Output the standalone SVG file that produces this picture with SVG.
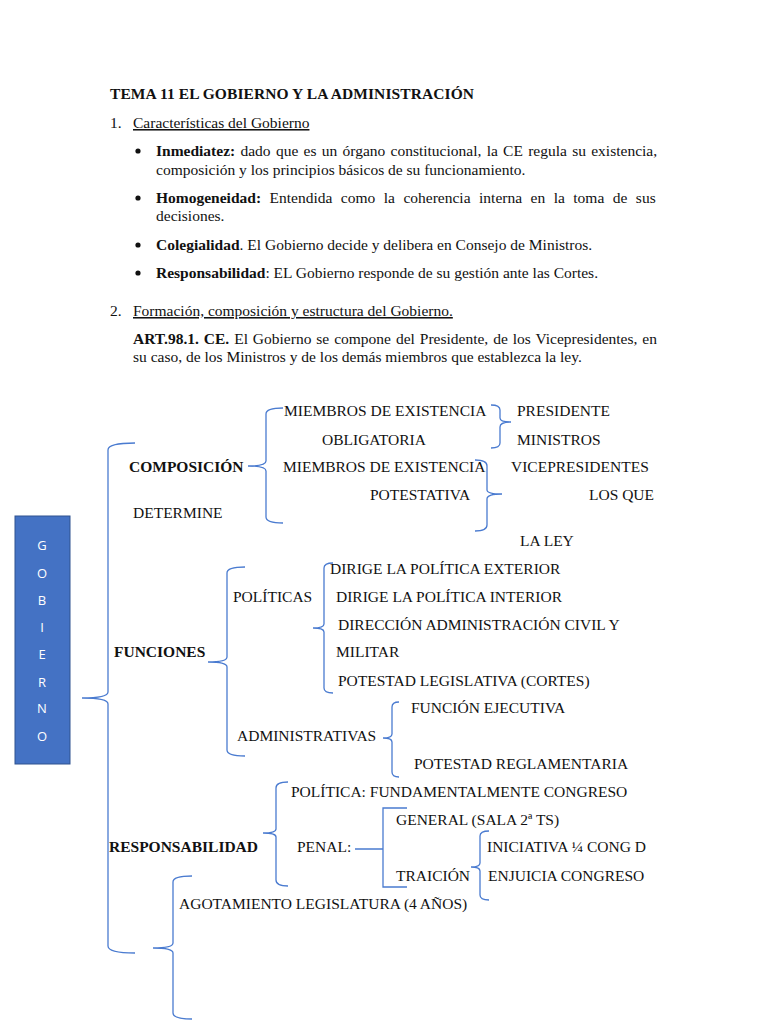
<svg xmlns="http://www.w3.org/2000/svg" width="768" height="1024" viewBox="0 0 768 1024">
<style>
text{font-family:"Liberation Serif","Times New Roman",serif;font-size:15.5px;fill:#111}
.b{font-weight:bold}
.u{text-decoration:underline}
.dot{fill:#111}
.br{fill:none;stroke:#4a7bd0;stroke-width:1.3}
.box{fill:#4472C4;stroke:#2F528F;stroke-width:1}
.v{font-family:"Open Sans","Liberation Sans",sans-serif;font-size:13px;fill:#fff;text-anchor:middle}
</style>
<rect width="768" height="1024" fill="#fff"/>
<g id="header">
<text class="b" x="110" y="99" textLength="364" lengthAdjust="spacing">TEMA 11 EL GOBIERNO Y LA ADMINISTRACIÓN</text>
<text x="110" y="128">1.</text><text class="u" x="133" y="128">Características del Gobierno</text>
<circle class="dot" cx="138" cy="151" r="2.6"/>
<text x="156" y="156" word-spacing="1.4"><tspan class="b">Inmediatez:</tspan> dado que es un órgano constitucional, la CE regula su existencia,</text>
<text x="156" y="175">composición y los principios básicos de su funcionamiento.</text>
<circle class="dot" cx="138" cy="198" r="2.6"/>
<text x="156" y="203" word-spacing="4.6"><tspan class="b">Homogeneidad:</tspan> Entendida como la coherencia interna en la toma de sus</text>
<text x="156" y="221">decisiones.</text>
<circle class="dot" cx="138" cy="245" r="2.6"/>
<text x="156" y="250"><tspan class="b">Colegialidad</tspan>. El Gobierno decide y delibera en Consejo de Ministros.</text>
<circle class="dot" cx="138" cy="273" r="2.6"/>
<text x="156" y="278"><tspan class="b">Responsabilidad</tspan>: EL Gobierno responde de su gestión ante las Cortes.</text>
<text x="110" y="316">2.</text><text class="u" x="133" y="316">Formación, composición y estructura del Gobierno.</text>
<text x="133" y="344" word-spacing="1.05"><tspan class="b">ART.98.1. CE.</tspan> El Gobierno se compone del Presidente, de los Vicepresidentes, en</text>
<text x="133" y="362">su caso, de los Ministros y de los demás miembros que establezca la ley.</text>
</g>
<g id="gobierno">
<rect class="box" x="15" y="516" width="55" height="248"/>
<text class="v" x="42" y="550">G</text>
<text class="v" x="42" y="578">O</text>
<text class="v" x="42" y="605">B</text>
<text class="v" x="42" y="632">I</text>
<text class="v" x="42" y="659">E</text>
<text class="v" x="42" y="687">R</text>
<text class="v" x="42" y="713">N</text>
<text class="v" x="42" y="741">O</text>
</g>
<g id="composicion">
<text class="b" x="129" y="472">COMPOSICIÓN</text>
<text x="133" y="518">DETERMINE</text>
</g>
<g id="miembros-obligatoria">
<text x="284" y="416">MIEMBROS DE EXISTENCIA</text>
<text x="322" y="445">OBLIGATORIA</text>
</g>
<g id="miembros-potestativa">
<text x="283" y="472">MIEMBROS DE EXISTENCIA</text>
<text x="370" y="500">POTESTATIVA</text>
</g>
<g id="presidente"><text x="517" y="416">PRESIDENTE</text></g>
<g id="ministros"><text x="517" y="445">MINISTROS</text></g>
<g id="vicepresidentes"><text x="511" y="472">VICEPRESIDENTES</text></g>
<g id="los-que"><text x="589" y="500">LOS QUE</text><text x="520" y="546">LA LEY</text></g>
<g id="funciones"><text class="b" x="114" y="657">FUNCIONES</text></g>
<g id="politicas"><text x="233" y="602">POLÍTICAS</text></g>
<g id="pol-exterior"><text x="330" y="574">DIRIGE LA POLÍTICA EXTERIOR</text></g>
<g id="pol-interior"><text x="336" y="602">DIRIGE LA POLÍTICA INTERIOR</text></g>
<g id="pol-direccion"><text x="338" y="630">DIRECCIÓN ADMINISTRACIÓN CIVIL Y</text><text x="336" y="657">MILITAR</text></g>
<g id="pol-potestad"><text x="338" y="686">POTESTAD LEGISLATIVA (CORTES)</text></g>
<g id="administrativas"><text x="237" y="741">ADMINISTRATIVAS</text></g>
<g id="adm-ejecutiva"><text x="411" y="713">FUNCIÓN EJECUTIVA</text></g>
<g id="adm-reglamentaria"><text x="414" y="769">POTESTAD REGLAMENTARIA</text></g>
<g id="responsabilidad"><text class="b" x="109" y="852">RESPONSABILIDAD</text></g>
<g id="resp-politica"><text x="291" y="797">POLÍTICA: FUNDAMENTALMENTE CONGRESO</text></g>
<g id="resp-penal"><text x="297" y="852">PENAL:</text></g>
<g id="penal-general"><text x="396" y="825">GENERAL (SALA 2ª TS)</text></g>
<g id="penal-traicion"><text x="396" y="881">TRAICIÓN</text></g>
<g id="traicion-iniciativa"><text x="487" y="852">INICIATIVA ¼ CONG D</text></g>
<g id="traicion-enjuicia"><text x="488" y="881">ENJUICIA CONGRESO</text></g>
<g id="agotamiento"><text x="179" y="909">AGOTAMIENTO LEGISLATURA (4 AÑOS)</text></g>
<g id="connectors">
<path class="br" d="M135 443 Q108 443 108 450 L108 692 Q108 698 82 698 Q108 698 108 704 L108 946 Q108 953 135 953"/>
<path class="br" d="M283 408 Q266 408 266 414 L266 461 Q266 466 248 466 Q266 466 266 471 L266 517 Q266 523 283 523"/>
<path class="br" d="M491 405 Q500 405 500 410 L500 418 Q500 422 511 422 Q500 422 500 427 L500 443 Q500 448 491 448"/>
<path class="br" d="M475 460 Q487 460 487 466 L487 490 Q487 494 502 494 Q487 494 487 499 L487 525 Q487 531 475 531"/>
<path class="br" d="M245 567 Q227 567 227 573 L227 657 Q227 662 208 662 Q227 662 227 667 L227 750 Q227 756 245 756"/>
<path class="br" d="M333 563 Q324 563 324 568 L324 624 Q324 628 313 628 Q324 628 324 632 L324 688 Q324 693 333 693"/>
<path class="br" d="M399 702 Q392 702 392 707 L392 734 Q392 738 383 738 Q392 738 392 742 L392 772 Q392 777 399 777"/>
<path class="br" d="M288 782 Q276 782 276 788 L276 829 Q276 833 263 833 Q276 833 276 837 L276 880 Q276 886 288 886"/>
<path class="br" d="M355 849 L383 849 M407 808 L383 808 L383 887 L407 887"/>
<path class="br" d="M489 831 Q480 831 480 836 L480 863 Q480 867 471 867 Q480 867 480 871 L480 895 Q480 900 489 900"/>
<path class="br" d="M192 876 Q173 876 173 882 L173 943 Q173 948 153 948 Q173 948 173 953 L173 1013 Q173 1019 192 1019"/>
</g>
</svg>
